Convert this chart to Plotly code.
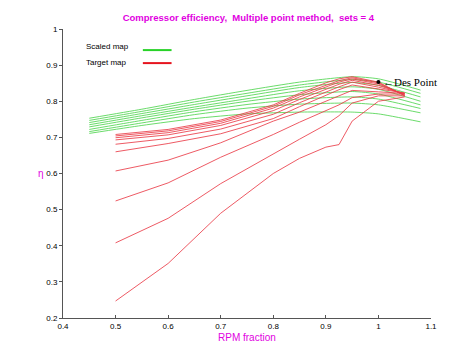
import plotly.graph_objects as go

# Scaled map (green) - RPM fraction points and efficiency per line
scaled_rpm = [0.45, 0.55, 0.65, 0.75, 0.85, 0.95, 1.0, 1.08]
scaled_eff = [
    [0.753, 0.778, 0.805, 0.830, 0.853, 0.868, 0.862, 0.831],
    [0.747, 0.772, 0.798, 0.822, 0.845, 0.860, 0.853, 0.822],
    [0.741, 0.766, 0.791, 0.815, 0.838, 0.852, 0.844, 0.812],
    [0.735, 0.760, 0.784, 0.807, 0.829, 0.840, 0.833, 0.800],
    [0.729, 0.754, 0.778, 0.800, 0.818, 0.827, 0.820, 0.790],
    [0.722, 0.747, 0.771, 0.791, 0.806, 0.812, 0.806, 0.780],
    [0.716, 0.740, 0.763, 0.781, 0.792, 0.795, 0.790, 0.768],
    [0.711, 0.733, 0.752, 0.765, 0.770, 0.770, 0.765, 0.743],
]

# Target map (red)
target_rpm = [0.5, 0.6, 0.7, 0.8, 0.85, 0.9, 0.925, 0.95, 1.0, 1.05]
target_eff = [
    [0.708, 0.722, 0.748, 0.790, 0.822, 0.851, 0.862, 0.868, 0.853, 0.815],
    [0.704, 0.718, 0.744, 0.786, 0.818, 0.845, 0.857, 0.865, 0.851, 0.816],
    [0.699, 0.713, 0.739, 0.781, 0.812, 0.840, 0.853, 0.862, 0.848, 0.818],
    [0.693, 0.707, 0.733, 0.774, 0.805, 0.833, 0.847, 0.858, 0.844, 0.820],
    [0.681, 0.697, 0.723, 0.764, 0.796, 0.826, 0.840, 0.853, 0.839, 0.822],
    [0.660, 0.683, 0.710, 0.752, 0.785, 0.817, 0.832, 0.845, 0.833, 0.823],
    [0.607, 0.637, 0.685, 0.745, 0.770, 0.800, 0.815, 0.830, 0.826, 0.822],
    [0.524, 0.574, 0.645, 0.708, 0.742, 0.775, 0.790, 0.810, 0.820, 0.820],
    [0.408, 0.476, 0.572, 0.655, 0.695, 0.735, 0.760, 0.795, 0.815, 0.815],
    [0.247, 0.351, 0.490, 0.600, 0.642, 0.673, 0.680, 0.745, 0.800, 0.812],
]

des_rpm = [1.0]
des_eff = [0.853]

x_ticks = [0.4, 0.5, 0.6, 0.7, 0.8, 0.9, 1.0, 1.1]
x_tick_text = ["0.4", "0.5", "0.6", "0.7", "0.8", "0.9", "1", "1.1"]
y_ticks = [0.2, 0.3, 0.4, 0.5, 0.6, 0.7, 0.8, 0.9, 1.0]
y_tick_text = ["0.2", "0.3", "0.4", "0.5", "0.6", "0.7", "0.8", "0.9", "1"]

GREEN = "rgb(80,212,80)"
RED = "rgb(234,60,72)"
MAGENTA = "rgb(225,0,225)"

fig = go.Figure()
for row in scaled_eff:
    fig.add_trace(go.Scatter(x=scaled_rpm, y=row, mode="lines",
                             line=dict(color=GREEN, width=0.85, shape="spline", smoothing=0.6),
                             showlegend=False, hoverinfo="skip"))
for row in target_eff:
    fig.add_trace(go.Scatter(x=target_rpm, y=row, mode="lines",
                             line=dict(color=RED, width=0.85),
                             showlegend=False, hoverinfo="skip"))
fig.add_trace(go.Scatter(x=des_rpm, y=des_eff, mode="markers",
                         marker=dict(color="black", size=4),
                         showlegend=False, hoverinfo="skip"))

fig.add_annotation(x=des_rpm[0], y=des_eff[0], xref="x", yref="y", text="←Des Point",
                   showarrow=False, xanchor="left", yanchor="middle", xshift=3,
                   font=dict(family="Liberation Serif", size=11, color="black"))

# legend (text then line sample)
fig.add_annotation(x=0.058, y=0.938, xref="paper", yref="paper", text="Scaled map",
                   showarrow=False, xanchor="left", yanchor="middle",
                   font=dict(family="Liberation Sans", size=8, color="black"))
fig.add_annotation(x=0.056, y=0.884, xref="paper", yref="paper", text="Target map",
                   showarrow=False, xanchor="left", yanchor="middle",
                   font=dict(family="Liberation Sans", size=8, color="black"))
fig.add_shape(type="line", xref="paper", yref="paper", x0=0.217, x1=0.295, y0=0.927, y1=0.927,
              line=dict(color="rgb(40,210,40)", width=2))
fig.add_shape(type="line", xref="paper", yref="paper", x0=0.217, x1=0.295, y0=0.882, y1=0.882,
              line=dict(color="rgb(230,20,30)", width=2))

# axis titles
fig.add_annotation(x=0.5, y=-0.067, xref="paper", yref="paper", text="RPM fraction",
                   showarrow=False, xanchor="center", yanchor="middle",
                   font=dict(family="Liberation Sans", size=10, color=MAGENTA))
fig.add_annotation(x=-0.06, y=0.5, xref="paper", yref="paper", text="η",
                   showarrow=False, xanchor="center", yanchor="middle",
                   font=dict(family="Liberation Sans", size=10, color=MAGENTA))

fig.update_layout(
    width=474, height=356,
    margin=dict(l=63, r=43, t=29, b=38),
    paper_bgcolor="white", plot_bgcolor="white",
    title=dict(text="<b>Compressor efficiency,  Multiple point method,  sets = 4</b>",
               x=0.524, xanchor="center", y=0.949, yanchor="middle",
               font=dict(family="Liberation Sans", size=9.5, color=MAGENTA)),
    xaxis=dict(range=[0.4, 1.1], tickvals=x_ticks, ticktext=x_tick_text,
               showgrid=False, zeroline=False, showline=True, linecolor="#555", linewidth=1,
               ticks="inside", ticklen=3, tickcolor="#555",
               tickfont=dict(family="Liberation Sans", size=8, color="black")),
    yaxis=dict(range=[0.2, 1.0], tickvals=y_ticks, ticktext=y_tick_text,
               showgrid=False, zeroline=False, showline=True, linecolor="#555", linewidth=1,
               ticks="outside", ticklen=3, tickcolor="#555",
               tickfont=dict(family="Liberation Sans", size=8, color="black")),
)

fig.write_html("out.html")
